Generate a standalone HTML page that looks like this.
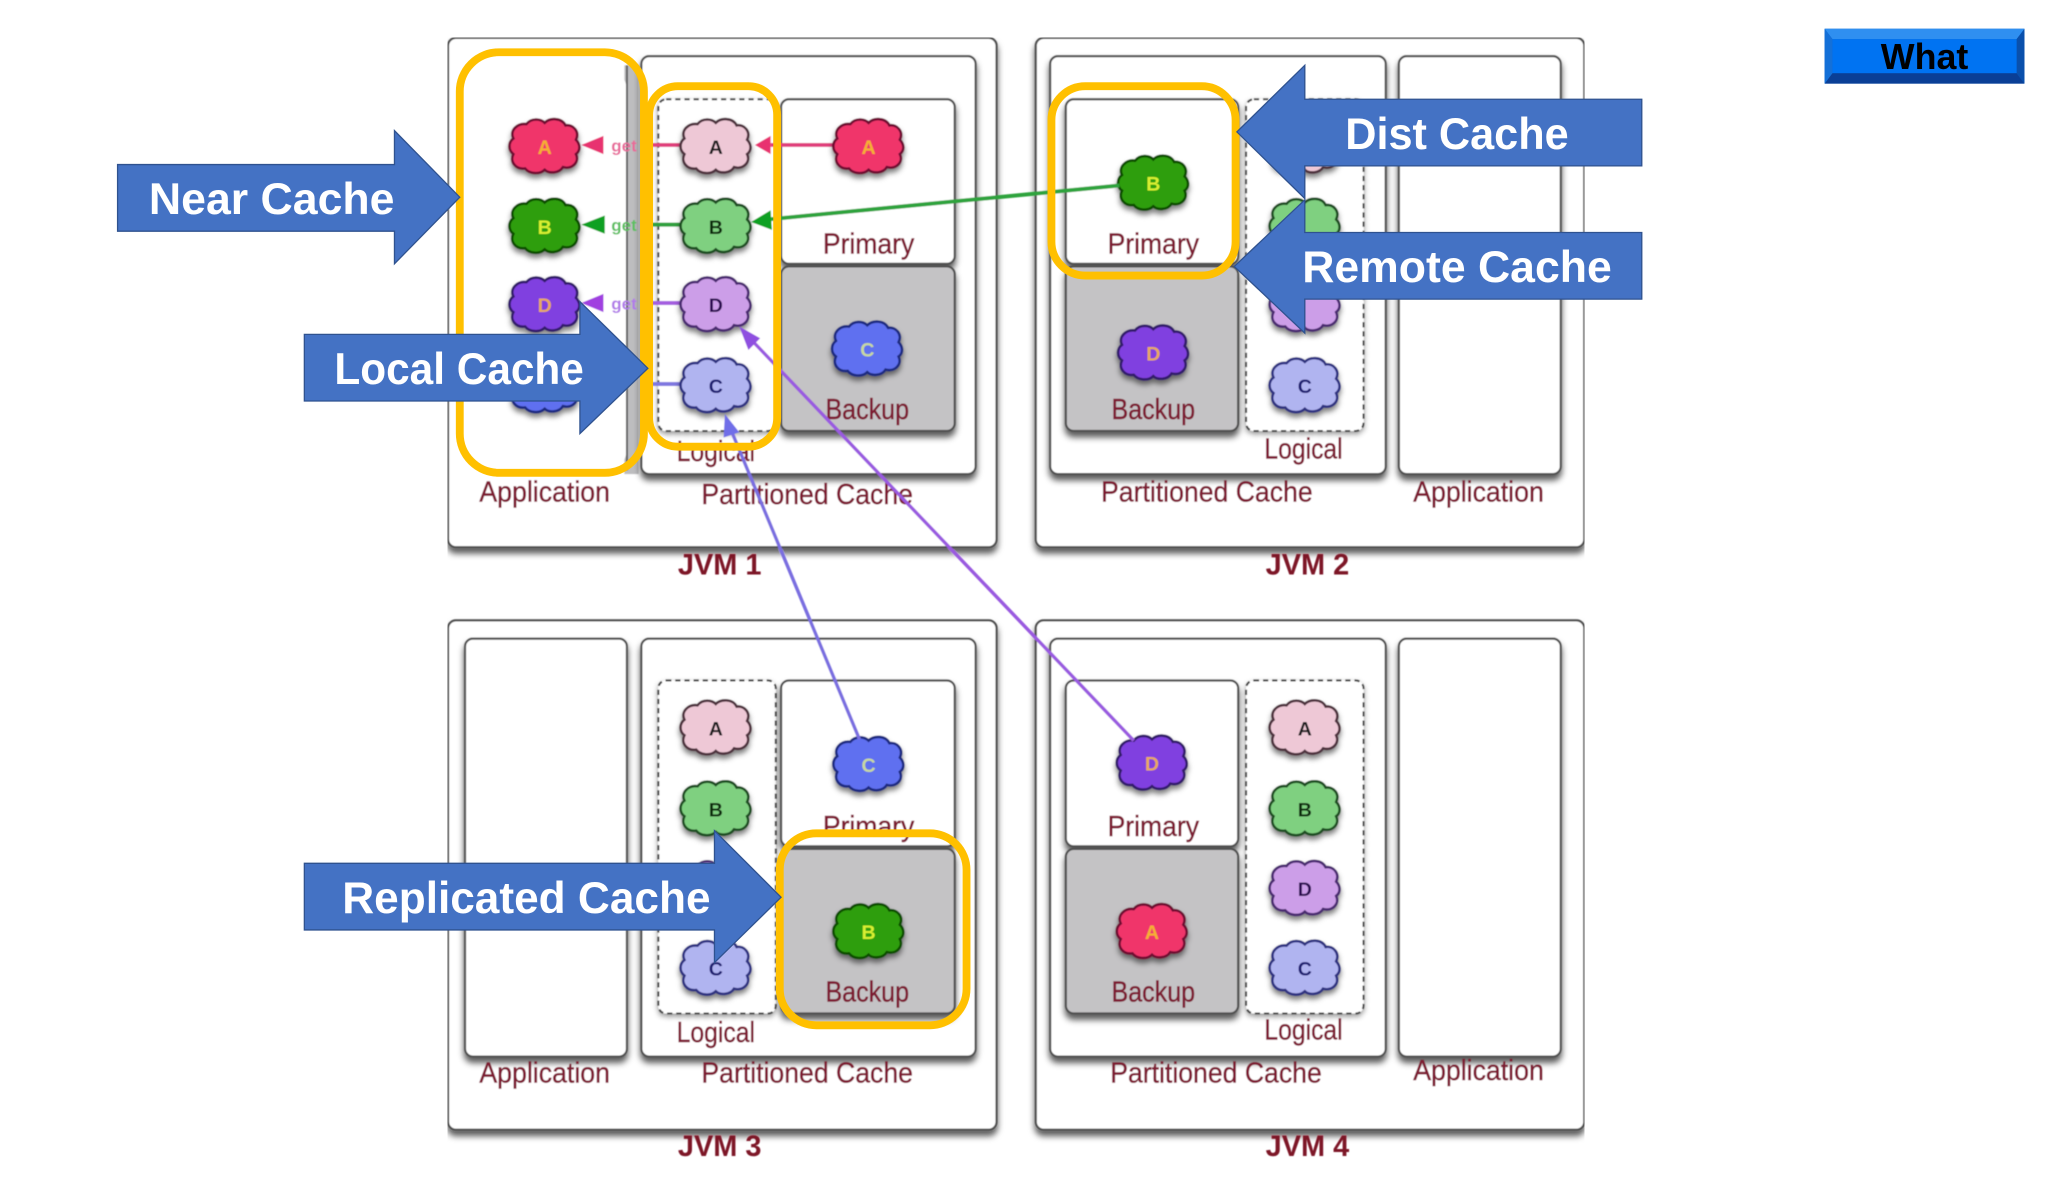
<!DOCTYPE html>
<html>
<head>
<meta charset="utf-8">
<title>Cache types</title>
<style>
html,body{margin:0;padding:0;background:#fff;width:2048px;height:1182px;overflow:hidden}
svg{display:block}
text{font-family:"Liberation Sans",sans-serif}
.l{fill:#7d1a30;stroke:#7d1a30;stroke-width:.35;font-size:22px;text-anchor:middle}
.j{fill:#7d1226;font-size:23px;font-weight:bold;text-anchor:middle}
.a{fill:#fff;font-size:34px;font-weight:bold}
.n{font-size:15px;font-weight:bold;text-anchor:middle}
.g{font-size:13px;font-weight:bold}
.box{fill:#fff;stroke:#505050;stroke-width:1.7;filter:url(#sh)}
.bk{fill:#c4c3c5;stroke:#505050;stroke-width:1.7;filter:url(#sh)}
.lg{fill:#fff;stroke:#444;stroke-width:1.6;stroke-dasharray:4 3;filter:url(#sh2)}
.y{fill:none;stroke:#ffc000;stroke-width:6}
.ar{fill:#4472c4;stroke:#2f528f;stroke-width:1}
</style>
</head>
<body>
<svg width="2048" height="1182" viewBox="0 0 1568 905" xmlns="http://www.w3.org/2000/svg">
<defs>
<filter id="sh" x="-10%" y="-10%" width="120%" height="120%"><feDropShadow dx="0" dy="4" stdDeviation="2.4" flood-color="#000" flood-opacity=".65"/></filter>
<filter id="sh2" x="-10%" y="-10%" width="120%" height="120%"><feDropShadow dx="0" dy="2" stdDeviation="2" flood-color="#000" flood-opacity=".4"/></filter>
<filter id="cs" x="-20%" y="-20%" width="140%" height="150%"><feDropShadow dx="0" dy="3" stdDeviation="2" flood-color="#000" flood-opacity=".5"/></filter>
<filter id="bl" x="0" y="0" width="100%" height="100%"><feGaussianBlur stdDeviation="0.45"/></filter>
<path id="cl" d="M-14,-17 C-10,-22 -3,-21 0,-18 C4,-22 13,-22 16,-16 C22,-17 27,-11 24,-5 C27,-2 28,3 24,6 C27,12 21,18 14,16 C11,21 3,21 0,18 C-4,22 -12,21 -15,17 C-22,18 -27,12 -24,6 C-28,3 -28,-3 -24,-6 C-27,-12 -21,-18 -14,-17 Z" stroke-width="2" filter="url(#cs)"/>
</defs>
<rect width="1568" height="905" fill="#fff"/>

<g filter="url(#bl)">
<!-- JVM boxes -->
<rect class="box" x="343" y="29" width="420" height="390" rx="6"/>
<rect class="box" x="793" y="29" width="420" height="390" rx="6"/>
<rect class="box" x="343" y="475" width="420" height="390" rx="6"/>
<rect class="box" x="793" y="475" width="420" height="390" rx="6"/>

<!-- JVM1 -->
<rect x="478" y="50" width="11" height="313" fill="#bdbdbf"/>
<rect x="356" y="50" width="124" height="313" rx="20" fill="#fff"/>
<line x1="480" y1="50" x2="480" y2="360" stroke="#606060" stroke-width="1.5"/>
<rect class="box" x="491" y="43" width="256" height="320" rx="6"/>
<rect class="lg" x="504" y="76" width="90" height="254" rx="6"/>
<rect class="box" x="598" y="76" width="133" height="126" rx="6"/>
<rect class="bk" x="598" y="204" width="133" height="126" rx="6"/>

<!-- JVM2 -->
<rect class="box" x="804" y="43" width="257" height="320" rx="6"/>
<rect class="box" x="1071" y="43" width="124" height="320" rx="6"/>
<rect class="box" x="816" y="76" width="132" height="126" rx="6"/>
<rect class="bk" x="816" y="204" width="132" height="126" rx="6"/>
<rect class="lg" x="954" y="76" width="90" height="254" rx="6"/>

<!-- JVM3 -->
<rect class="box" x="356" y="489" width="124" height="320" rx="6"/>
<rect class="box" x="491" y="489" width="256" height="320" rx="6"/>
<rect class="lg" x="504" y="521" width="90" height="255" rx="6"/>
<rect class="box" x="598" y="521" width="133" height="127" rx="6"/>
<rect class="bk" x="598" y="650" width="133" height="126" rx="6"/>

<!-- JVM4 -->
<rect class="box" x="804" y="489" width="257" height="320" rx="6"/>
<rect class="box" x="1071" y="489" width="124" height="320" rx="6"/>
<rect class="box" x="816" y="521" width="132" height="127" rx="6"/>
<rect class="bk" x="816" y="650" width="132" height="126" rx="6"/>
<rect class="lg" x="954" y="521" width="90" height="255" rx="6"/>

<!-- connector stubs -->
<g stroke-width="3" fill="none">
<line x1="498" y1="111" x2="526" y2="111" stroke="#e0407c"/>
<line x1="590" y1="111" x2="640" y2="111" stroke="#e0407c"/>
<line x1="498" y1="172" x2="526" y2="172" stroke="#2fa03c"/>
<line x1="498" y1="232" x2="526" y2="232" stroke="#a55ee0"/>
<line x1="498" y1="294" x2="526" y2="294" stroke="#7f78e0"/>
</g>
<polygon points="445,111 462,104 462,118" fill="#e8306f"/>
<polygon points="445,172 463,165 463,179" fill="#0ca020"/>
<polygon points="445,232 462,225 462,239" fill="#a040e0"/>
<polygon points="578,111 590,104 590,118" fill="#e8306f"/>
<text class="g" x="468" y="116" fill="#e86a9a">get</text>
<text class="g" x="468" y="177" fill="#5cbf60">get</text>
<text class="g" x="468" y="237" fill="#b07ae8">get</text>

<!-- clouds JVM1 -->
<use href="#cl" x="417" y="112" fill="#f0346a" stroke="#6e1030"/><text class="n" x="417" y="118" fill="#f5b030">A</text>
<use href="#cl" x="417" y="173" fill="#2d9e0a" stroke="#0e4d05"/><text class="n" x="417" y="179" fill="#d8f030">B</text>
<use href="#cl" x="417" y="295" fill="#5f6ff0" stroke="#1e2a80"/>
<use href="#cl" x="417" y="233" fill="#8040e0" stroke="#321a6a"/><text class="n" x="417" y="239" fill="#e8a860">D</text>
<use href="#cl" x="548" y="112" fill="#eec8d6" stroke="#4e323c"/><text class="n" x="548" y="118" fill="#1a1a1a">A</text>
<use href="#cl" x="548" y="173" fill="#7fd080" stroke="#1e4d20"/><text class="n" x="548" y="179" fill="#0a2a0a">B</text>
<use href="#cl" x="548" y="233" fill="#cc9ee8" stroke="#4a2a70"/><text class="n" x="548" y="239" fill="#2a0a50">D</text>
<use href="#cl" x="548" y="295" fill="#b0b4f0" stroke="#2e3080"/><text class="n" x="548" y="301" fill="#1a1a70">C</text>
<use href="#cl" x="665" y="112" fill="#f0346a" stroke="#6e1030"/><text class="n" x="665" y="118" fill="#f5b030">A</text>
<use href="#cl" x="664" y="267" fill="#5f6ff0" stroke="#1e2a80"/><text class="n" x="664" y="273" fill="#c8d8a0">C</text>

<!-- clouds JVM2 -->
<use href="#cl" x="883" y="140" fill="#2d9e0a" stroke="#0e4d05"/><text class="n" x="883" y="146" fill="#d8f030">B</text>
<use href="#cl" x="883" y="270" fill="#8040e0" stroke="#321a6a"/><text class="n" x="883" y="276" fill="#e8a860">D</text>
<use href="#cl" x="999" y="112" fill="#eec8d6" stroke="#4e323c"/>
<use href="#cl" x="999" y="173" fill="#7fd080" stroke="#1e4d20"/>
<use href="#cl" x="999" y="233" fill="#cc9ee8" stroke="#4a2a70"/>
<use href="#cl" x="999" y="295" fill="#b0b4f0" stroke="#2e3080"/><text class="n" x="999" y="301" fill="#1a1a70">C</text>

<!-- clouds JVM3 -->
<use href="#cl" x="548" y="557" fill="#eec8d6" stroke="#4e323c"/><text class="n" x="548" y="563" fill="#1a1a1a">A</text>
<use href="#cl" x="548" y="619" fill="#7fd080" stroke="#1e4d20"/><text class="n" x="548" y="625" fill="#0a2a0a">B</text>
<use href="#cl" x="548" y="680" fill="#cc9ee8" stroke="#4a2a70"/>
<use href="#cl" x="548" y="741" fill="#b0b4f0" stroke="#2e3080"/><text class="n" x="548" y="747" fill="#1a1a70">C</text>
<use href="#cl" x="665" y="585" fill="#5f6ff0" stroke="#1e2a80"/><text class="n" x="665" y="591" fill="#c8d8a0">C</text>
<use href="#cl" x="665" y="713" fill="#2d9e0a" stroke="#0e4d05"/><text class="n" x="665" y="719" fill="#d8f030">B</text>

<!-- clouds JVM4 -->
<use href="#cl" x="882" y="584" fill="#8040e0" stroke="#321a6a"/><text class="n" x="882" y="590" fill="#e8a860">D</text>
<use href="#cl" x="882" y="713" fill="#f0346a" stroke="#6e1030"/><text class="n" x="882" y="719" fill="#f5b030">A</text>
<use href="#cl" x="999" y="557" fill="#eec8d6" stroke="#4e323c"/><text class="n" x="999" y="563" fill="#1a1a1a">A</text>
<use href="#cl" x="999" y="619" fill="#7fd080" stroke="#1e4d20"/><text class="n" x="999" y="625" fill="#0a2a0a">B</text>
<use href="#cl" x="999" y="680" fill="#cc9ee8" stroke="#4a2a70"/><text class="n" x="999" y="686" fill="#2a0a50">D</text>
<use href="#cl" x="999" y="741" fill="#b0b4f0" stroke="#2e3080"/><text class="n" x="999" y="747" fill="#1a1a70">C</text>

<!-- labels -->
<text class="l" x="665" y="194" textLength="70" lengthAdjust="spacingAndGlyphs">Primary</text>
<text class="l" x="664" y="321" textLength="64" lengthAdjust="spacingAndGlyphs">Backup</text>
<text class="l" x="548" y="353" textLength="60" lengthAdjust="spacingAndGlyphs">Logical</text>
<text class="l" x="417" y="384" textLength="100" lengthAdjust="spacingAndGlyphs">Application</text>
<text class="l" x="618" y="386" textLength="162" lengthAdjust="spacingAndGlyphs">Partitioned Cache</text>
<text class="j" x="551" y="440" textLength="64" lengthAdjust="spacingAndGlyphs">JVM 1</text>

<text class="l" x="883" y="194" textLength="70" lengthAdjust="spacingAndGlyphs">Primary</text>
<text class="l" x="883" y="321" textLength="64" lengthAdjust="spacingAndGlyphs">Backup</text>
<text class="l" x="998" y="351" textLength="60" lengthAdjust="spacingAndGlyphs">Logical</text>
<text class="l" x="924" y="384" textLength="162" lengthAdjust="spacingAndGlyphs">Partitioned Cache</text>
<text class="l" x="1132" y="384" textLength="100" lengthAdjust="spacingAndGlyphs">Application</text>
<text class="j" x="1001" y="440" textLength="64" lengthAdjust="spacingAndGlyphs">JVM 2</text>

<text class="l" x="665" y="640" textLength="70" lengthAdjust="spacingAndGlyphs">Primary</text>
<text class="l" x="664" y="767" textLength="64" lengthAdjust="spacingAndGlyphs">Backup</text>
<text class="l" x="548" y="798" textLength="60" lengthAdjust="spacingAndGlyphs">Logical</text>
<text class="l" x="417" y="829" textLength="100" lengthAdjust="spacingAndGlyphs">Application</text>
<text class="l" x="618" y="829" textLength="162" lengthAdjust="spacingAndGlyphs">Partitioned Cache</text>
<text class="j" x="551" y="885" textLength="64" lengthAdjust="spacingAndGlyphs">JVM 3</text>

<text class="l" x="883" y="640" textLength="70" lengthAdjust="spacingAndGlyphs">Primary</text>
<text class="l" x="883" y="767" textLength="64" lengthAdjust="spacingAndGlyphs">Backup</text>
<text class="l" x="998" y="796" textLength="60" lengthAdjust="spacingAndGlyphs">Logical</text>
<text class="l" x="931" y="829" textLength="162" lengthAdjust="spacingAndGlyphs">Partitioned Cache</text>
<text class="l" x="1132" y="827" textLength="100" lengthAdjust="spacingAndGlyphs">Application</text>
<text class="j" x="1001" y="885" textLength="64" lengthAdjust="spacingAndGlyphs">JVM 4</text>

<!-- long connectors -->
<line x1="857" y1="142" x2="588" y2="168" stroke="#2ea33c" stroke-width="3"/>
<polygon points="575,170 590,161 591,176" fill="#0ca020"/>
<line x1="868" y1="567" x2="576" y2="261" stroke="#9a5ae0" stroke-width="2.6"/>
<polygon points="566,250 582,259 573,268" fill="#8f4fe0"/>
<line x1="658" y1="566" x2="560" y2="330" stroke="#7a6ee0" stroke-width="2.6"/>
<polygon points="555,317 566,331 554,335" fill="#6f6ee8"/>
</g>

<!-- yellow highlights -->
<rect class="y" x="352" y="40" width="141" height="322" rx="30"/>
<rect class="y" x="497" y="66" width="98" height="276" rx="22"/>
<rect class="y" x="805" y="66" width="141" height="145" rx="26"/>
<rect class="y" x="597" y="638" width="143" height="147" rx="28"/>

<!-- callout arrows -->
<polygon class="ar" points="90,126 302,126 302,100 352,151 302,202 302,177 90,177"/>
<polygon class="ar" points="233,256 444,256 444,231 496,282 444,332 444,307 233,307"/>
<polygon class="ar" points="1257,76 999,76 999,50 947,101 999,152 999,127 1257,127"/>
<polygon class="ar" points="1257,178 999,178 999,153 945,204 999,255 999,229 1257,229"/>
<polygon class="ar" points="233,661 547,661 547,636 598,687 547,737 547,712 233,712"/>

<text class="a" x="114" y="164" textLength="188" lengthAdjust="spacingAndGlyphs">Near Cache</text>
<text class="a" x="256" y="294" textLength="191" lengthAdjust="spacingAndGlyphs">Local Cache</text>
<text class="a" x="1030" y="114" textLength="171" lengthAdjust="spacingAndGlyphs">Dist Cache</text>
<text class="a" x="997" y="216" textLength="237" lengthAdjust="spacingAndGlyphs">Remote Cache</text>
<text class="a" x="262" y="699" textLength="282" lengthAdjust="spacingAndGlyphs">Replicated Cache</text>

<!-- What button -->
<rect x="1397" y="22" width="153" height="42" fill="#0a62cc"/>
<polygon points="1397,22 1550,22 1544,30 1403,30" fill="#2f8ff0"/>
<polygon points="1397,64 1550,64 1544,56 1403,56" fill="#0a3f96"/>
<polygon points="1397,22 1403,30 1403,56 1397,64" fill="#1470d8"/>
<polygon points="1550,22 1544,30 1544,56 1550,64" fill="#0a50ac"/>
<rect x="1403" y="30" width="141" height="26" fill="#0073f2"/>
<text x="1440" y="53" font-size="28" font-weight="bold" fill="#000" textLength="67" lengthAdjust="spacingAndGlyphs">What</text>
</svg>
</body>
</html>
